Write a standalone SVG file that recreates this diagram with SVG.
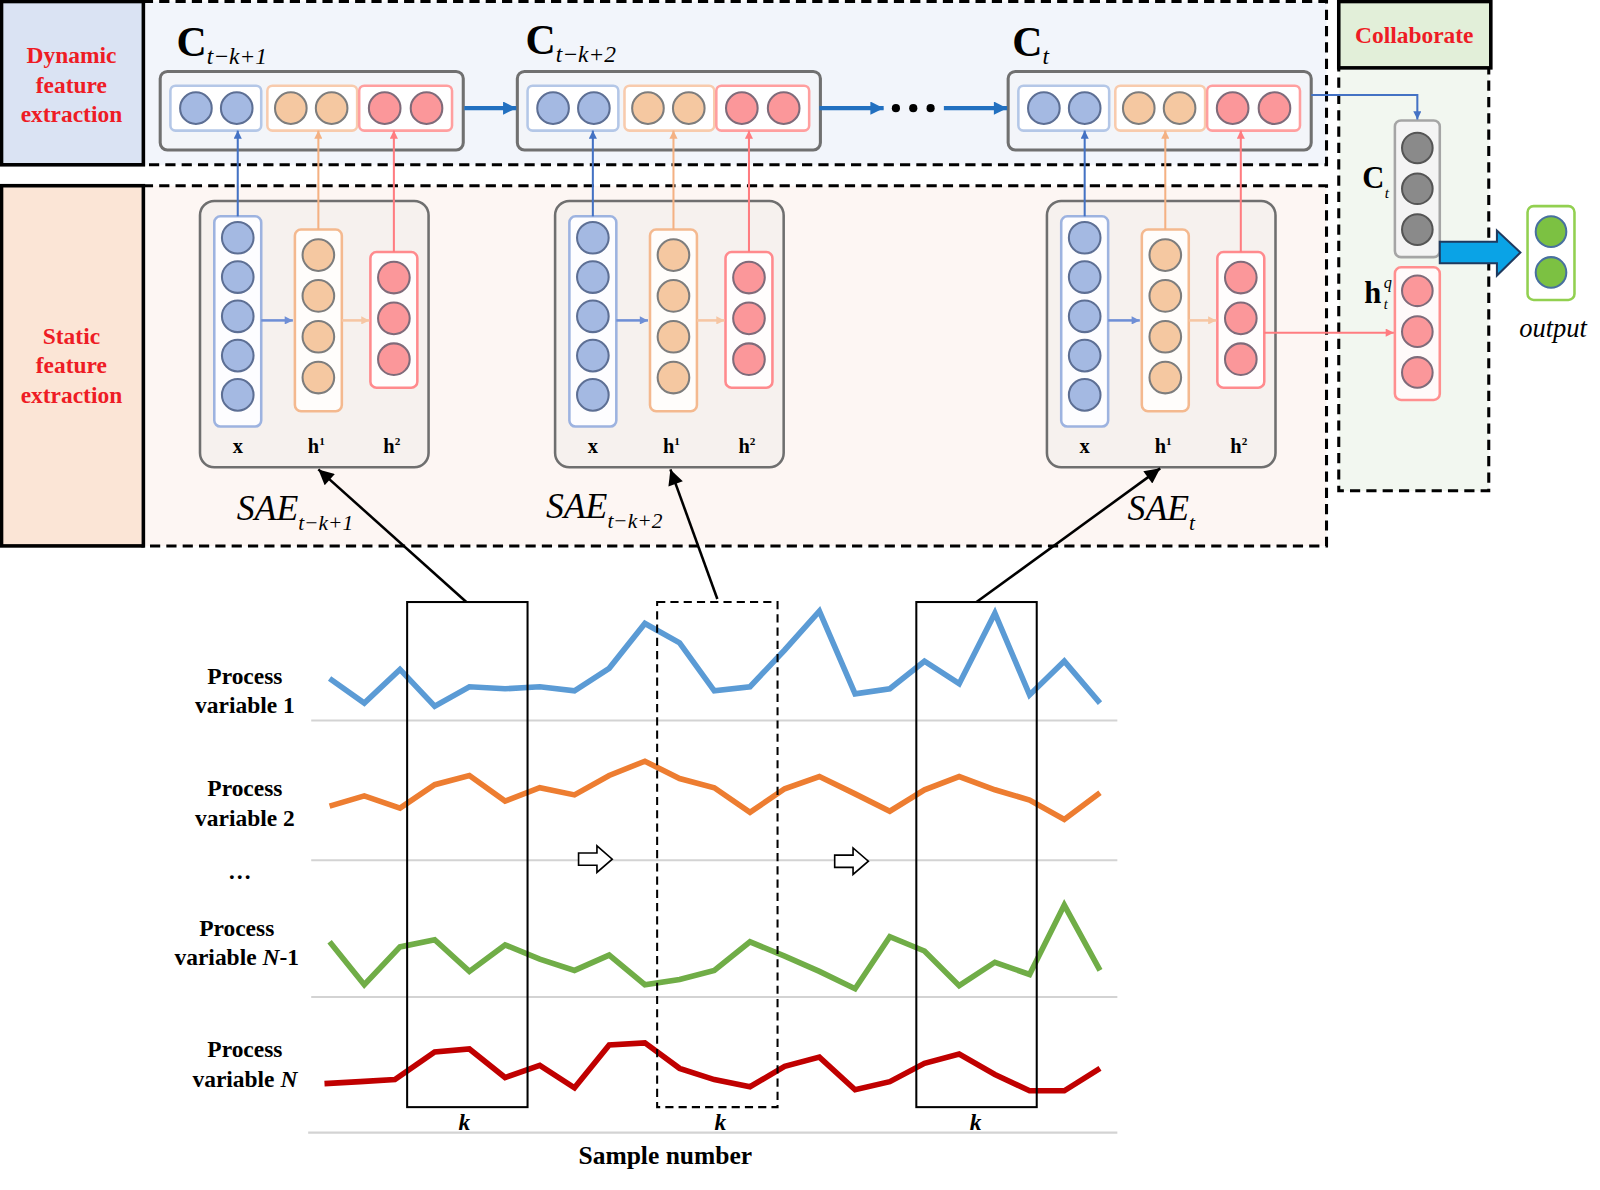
<svg xmlns="http://www.w3.org/2000/svg" width="1600" height="1190" viewBox="0 0 1600 1190">
<defs>
<style>
text { font-family: "Liberation Serif", "Times New Roman", serif; fill:#000; }
.lbl { font-size:23px; font-weight:bold; fill:#ee1c25; text-anchor:middle; }
.band { stroke:#000; stroke-width:3; stroke-dasharray:10 6; }
.solidbox { stroke:#000; stroke-width:3.5; }
.cout { fill:#f3f5f9; stroke:#707070; stroke-width:3; }
.ib { fill:#fff; stroke:#b4c7e7; stroke-width:2.5; }
.io { fill:#fff; stroke:#f8cbad; stroke-width:2.5; }
.ir { fill:#fff; stroke:#ff9f9f; stroke-width:2.5; }
.cb { fill:#fdfdff; stroke:#9db3e0; stroke-width:2.5; }
.co { fill:#fffdfb; stroke:#f4b98f; stroke-width:2.5; }
.cr { fill:#fffdfd; stroke:#ff8a8d; stroke-width:2.5; }
.nb { fill:#a4b9e2; stroke:#5d6f94; stroke-width:2; }
.no { fill:#f5c8a1; stroke:#7d7d7d; stroke-width:2; }
.nr { fill:#fb979a; stroke:#7f6b7a; stroke-width:2; }
.ng { fill:#8a8a8a; stroke:#555; stroke-width:2; }
.ngr { fill:#7cc142; stroke:#48709f; stroke-width:2; }
.saeo { fill:#f6f1ee; stroke:#6f6f6f; stroke-width:2.5; }
.cap { font-size:41px; font-weight:bold; }
.sub { font-size:23px; font-style:italic; }
.sae { font-size:35px; font-style:italic; }
.sl { font-size:20px; font-weight:bold; text-anchor:middle; }
.pv { font-size:23px; font-weight:bold; text-anchor:middle; }
.grid { stroke:#d3d3d3; stroke-width:2; }
.series { fill:none; stroke-width:5.5; stroke-linejoin:miter; }
.win { fill:none; stroke:#000; stroke-width:2; }
.hollow { fill:#fff; stroke:#000; stroke-width:1.6; }
</style>
<marker id="mdyn" markerUnits="userSpaceOnUse" viewBox="0 0 10 10" refX="10" refY="5" markerWidth="15" markerHeight="13" orient="auto"><path d="M0,0 L10,5 L0,10 z" fill="#2270c0"/></marker>
<marker id="mb" markerUnits="userSpaceOnUse" viewBox="0 0 10 10" refX="10" refY="5" markerWidth="9" markerHeight="8" orient="auto"><path d="M0,0 L10,5 L0,10 z" fill="#4472c4"/></marker>
<marker id="mbl" markerUnits="userSpaceOnUse" viewBox="0 0 10 10" refX="10" refY="5" markerWidth="9" markerHeight="8" orient="auto"><path d="M0,0 L10,5 L0,10 z" fill="#6f8fd6"/></marker>
<marker id="mo" markerUnits="userSpaceOnUse" viewBox="0 0 10 10" refX="10" refY="5" markerWidth="9" markerHeight="8" orient="auto"><path d="M0,0 L10,5 L0,10 z" fill="#f4b183"/></marker>
<marker id="mol" markerUnits="userSpaceOnUse" viewBox="0 0 10 10" refX="10" refY="5" markerWidth="9" markerHeight="8" orient="auto"><path d="M0,0 L10,5 L0,10 z" fill="#f6c6a3"/></marker>
<marker id="mr" markerUnits="userSpaceOnUse" viewBox="0 0 10 10" refX="10" refY="5" markerWidth="9" markerHeight="8" orient="auto"><path d="M0,0 L10,5 L0,10 z" fill="#ff7c80"/></marker>
<marker id="mk" markerUnits="userSpaceOnUse" viewBox="0 0 10 10" refX="10" refY="5" markerWidth="18" markerHeight="15" orient="auto"><path d="M0,0 L10,5 L0,10 z" fill="#000"/></marker>
<g id="cT">
<rect class="cout" x="0" y="0" width="297" height="77" rx="7"/>
<rect class="ib" x="10" y="14" width="89" height="44" rx="5"/>
<rect class="io" x="105" y="14" width="88" height="44" rx="5"/>
<rect class="ir" x="195" y="14" width="91" height="44" rx="5"/>
<circle class="nb" cx="35" cy="36" r="15.5"/><circle class="nb" cx="75" cy="36" r="15.5"/>
<circle class="no" cx="128" cy="36" r="15.5"/><circle class="no" cx="168" cy="36" r="15.5"/>
<circle class="nr" cx="220" cy="36" r="15.5"/><circle class="nr" cx="261" cy="36" r="15.5"/>
</g>
<g id="saeT">
<rect class="saeo" x="0" y="0" width="224" height="261" rx="14"/>
<rect class="cb" x="14" y="15" width="46" height="206" rx="6"/>
<circle class="nb" cx="37" cy="36" r="15.5"/><circle class="nb" cx="37" cy="74.5" r="15.5"/><circle class="nb" cx="37" cy="113" r="15.5"/><circle class="nb" cx="37" cy="151.5" r="15.5"/><circle class="nb" cx="37" cy="190" r="15.5"/>
<rect class="co" x="93" y="28" width="46" height="178" rx="6"/>
<circle class="no" cx="116" cy="53" r="15.5"/><circle class="no" cx="116" cy="93" r="15.5"/><circle class="no" cx="116" cy="133" r="15.5"/><circle class="no" cx="116" cy="173" r="15.5"/>
<rect class="cr" x="167" y="50" width="46" height="133" rx="6"/>
<circle class="nr" cx="190" cy="75" r="15.5"/><circle class="nr" cx="190" cy="115" r="15.5"/><circle class="nr" cx="190" cy="155" r="15.5"/>
<line x1="60" y1="117" x2="91" y2="117" stroke="#6f8fd6" stroke-width="2.5" marker-end="url(#mbl)"/>
<line x1="139" y1="117" x2="166" y2="117" stroke="#f6c6a3" stroke-width="2.5" marker-end="url(#mol)"/>
</g>
</defs>
<rect x="0" y="0" width="1600" height="1190" fill="#fff"/>
<g transform="scale(1.0204)">

<g id="dynamic-band">
<rect class="band" x="140" y="1.5" width="1160" height="160" fill="#f2f5fb"/>
<rect class="solidbox" x="1.5" y="1.5" width="139" height="160" fill="#dae3f3"/>
<text class="lbl" x="70" y="62">Dynamic</text>
<text class="lbl" x="70" y="91">feature</text>
<text class="lbl" x="70" y="120">extraction</text>
</g>
<g id="static-band">
<rect class="band" x="140" y="182" width="1160" height="353" fill="#fdf6f3"/>
<rect class="solidbox" x="1.5" y="182" width="139" height="353" fill="#fbe5d6"/>
<text class="lbl" x="70" y="337">Static</text>
<text class="lbl" x="70" y="366">feature</text>
<text class="lbl" x="70" y="395">extraction</text>
</g>
<g id="collaborate-band">
<rect class="band" x="1312" y="66" width="147" height="415" fill="#f2f7f0"/>
<rect class="solidbox" x="1312" y="1.5" width="149" height="65" fill="#e2efd9"/>
<text class="lbl" x="1386" y="42">Collaborate</text>
</g>

<g id="C1">
<use href="#cT" x="157" y="70"/>
<text class="cap" x="173" y="55">C<tspan class="sub" dy="8" font-weight="normal">t−k+1</tspan></text>
</g>
<g id="C2">
<use href="#cT" x="507" y="70"/>
<text class="cap" x="515" y="53">C<tspan class="sub" dy="8" font-weight="normal">t−k+2</tspan></text>
</g>
<g id="C3">
<use href="#cT" x="988" y="70"/>
<text class="cap" x="992" y="55">C<tspan class="sub" dy="8" font-weight="normal">t</tspan></text>
</g>

<g id="SAE1">
<use href="#saeT" x="196" y="197"/>
<text class="sl" x="233" y="444">x</text>
<text class="sl" x="310" y="444">h<tspan font-size="11" dy="-8">1</tspan></text>
<text class="sl" x="384" y="444">h<tspan font-size="11" dy="-8">2</tspan></text>
<text class="sae" x="232" y="510">SAE<tspan font-size="21" dy="9">t−k+1</tspan></text>
</g>
<g id="SAE2">
<use href="#saeT" x="544" y="197"/>
<text class="sl" x="581" y="444">x</text>
<text class="sl" x="658" y="444">h<tspan font-size="11" dy="-8">1</tspan></text>
<text class="sl" x="732" y="444">h<tspan font-size="11" dy="-8">2</tspan></text>
<text class="sae" x="535" y="508">SAE<tspan font-size="21" dy="9">t−k+2</tspan></text>
</g>
<g id="SAE3">
<use href="#saeT" x="1026" y="197"/>
<text class="sl" x="1063" y="444">x</text>
<text class="sl" x="1140" y="444">h<tspan font-size="11" dy="-8">1</tspan></text>
<text class="sl" x="1214" y="444">h<tspan font-size="11" dy="-8">2</tspan></text>
<text class="sae" x="1105" y="510">SAE<tspan font-size="21" dy="9">t</tspan></text>
</g>

<g id="Ct-column">
<text x="1335" y="184" font-size="30" font-weight="bold">C</text>
<text x="1357" y="194" font-size="15" font-style="italic">t</text>
<rect x="1367" y="118" width="44" height="134" rx="6" fill="#f4f4f4" stroke="#a5a5a5" stroke-width="2.5"/>
<circle class="ng" cx="1389" cy="145" r="15"/><circle class="ng" cx="1389" cy="185" r="15"/><circle class="ng" cx="1389" cy="225" r="15"/>
</g>
<g id="ht-column">
<text x="1337" y="297" font-size="30" font-weight="bold">h</text>
<text x="1356" y="282" font-size="16" font-style="italic">q</text>
<text x="1356" y="303" font-size="14" font-style="italic">t</text>
<rect x="1367" y="262" width="44" height="130" rx="6" fill="#fffafa" stroke="#ff8f8f" stroke-width="2.5"/>
<circle class="nr" cx="1389" cy="285" r="15"/><circle class="nr" cx="1389" cy="325" r="15"/><circle class="nr" cx="1389" cy="365" r="15"/>
</g>
<g id="output">
<rect x="1497" y="202" width="46" height="92" rx="6" fill="#fff" stroke="#92d050" stroke-width="2.5"/>
<circle class="ngr" cx="1520" cy="227" r="15"/><circle class="ngr" cx="1520" cy="267" r="15"/>
<text x="1522" y="330" font-size="26" font-style="italic" text-anchor="middle">output</text>
</g>

<g id="chart">
<line class="grid" x1="305" y1="706" x2="1095" y2="706"/>
<line class="grid" x1="305" y1="843" x2="1095" y2="843"/>
<line class="grid" x1="305" y1="977" x2="1095" y2="977"/>
<line class="grid" x1="302" y1="1110" x2="1095" y2="1110"/>
<text class="pv" x="240" y="670">Process</text>
<text class="pv" x="240" y="699">variable  1</text>
<text class="pv" x="240" y="780">Process</text>
<text class="pv" x="240" y="809">variable  2</text>
<text class="pv" x="235" y="861">…</text>
<text class="pv" x="232" y="917">Process</text>
<text class="pv" x="232" y="946">variable <tspan font-style="italic">N</tspan>-1</text>
<text class="pv" x="240" y="1036">Process</text>
<text class="pv" x="240" y="1065">variable <tspan font-style="italic">N</tspan></text>
<polyline class="series" stroke="#5b9bd5" points="323,665 357,689 392,656 426,692 460,673 495,675 529,673 563,677 597,655 632,611 666,630 700,677 735,673 769,637 803,599 838,680 872,675 906,648 940,670 975,601 1009,681 1043,648 1078,689"/>
<polyline class="series" stroke="#ed7d31" points="323,790 357,780 392,792 426,769 460,760 495,785 529,772 563,779 597,760 632,746 666,763 700,772 735,796 769,773 803,761 838,778 872,795 906,774 940,761 975,774 1009,784 1043,803 1078,777"/>
<polyline class="series" stroke="#70ad47" points="323,923 357,965 392,928 426,921 460,952 495,926 529,940 563,951 597,936 632,965 666,960 700,951 735,923 769,937 803,952 838,969 872,918 906,932 940,966 975,943 1009,955 1043,887 1078,951"/>
<polyline class="series" stroke="#c00000" stroke-width="6.5" points="318,1062 353,1060 387,1058 426,1031 460,1028 495,1056 529,1044 563,1066 597,1024 632,1022 666,1047 700,1058 735,1065 769,1045 803,1036 838,1068 872,1060 906,1042 940,1033 975,1053 1009,1069 1043,1069 1078,1047"/>
<rect class="win" x="399" y="590" width="118" height="495"/>
<rect class="win" x="644" y="590" width="118" height="495" stroke-width="2.5" stroke-dasharray="8 5"/>
<rect class="win" x="898" y="590" width="118" height="495"/>
<text x="455" y="1107" font-size="23" font-weight="bold" font-style="italic" text-anchor="middle">k</text>
<text x="706" y="1107" font-size="23" font-weight="bold" font-style="italic" text-anchor="middle">k</text>
<text x="956" y="1107" font-size="23" font-weight="bold" font-style="italic" text-anchor="middle">k</text>
<text x="652" y="1141" font-size="25" font-weight="bold" text-anchor="middle">Sample number</text>
<path class="hollow" d="M567,836 L585,836 L585,829 L600,842 L585,855 L585,848 L567,848 Z"/>
<path class="hollow" d="M818,838 L836,838 L836,831 L851,844 L836,857 L836,850 L818,850 Z"/>
</g>

<g id="connectors">
<line x1="455" y1="106" x2="506" y2="106" stroke="#2270c0" stroke-width="4" marker-end="url(#mdyn)"/>
<line x1="803" y1="106" x2="866" y2="106" stroke="#2270c0" stroke-width="4" marker-end="url(#mdyn)"/>
<circle cx="878" cy="106" r="4" fill="#000"/><circle cx="895" cy="106" r="4" fill="#000"/><circle cx="912" cy="106" r="4" fill="#000"/>
<line x1="925" y1="106" x2="987" y2="106" stroke="#2270c0" stroke-width="4" marker-end="url(#mdyn)"/>
<line x1="233" y1="212" x2="233" y2="128" stroke="#4472c4" stroke-width="2" marker-end="url(#mb)"/>
<line x1="312" y1="225" x2="312" y2="128" stroke="#f4b183" stroke-width="2" marker-end="url(#mo)"/>
<line x1="386" y1="247" x2="386" y2="128" stroke="#ff7c80" stroke-width="2" marker-end="url(#mr)"/>
<line x1="581" y1="212" x2="581" y2="128" stroke="#4472c4" stroke-width="2" marker-end="url(#mb)"/>
<line x1="660" y1="225" x2="660" y2="128" stroke="#f4b183" stroke-width="2" marker-end="url(#mo)"/>
<line x1="734" y1="247" x2="734" y2="128" stroke="#ff7c80" stroke-width="2" marker-end="url(#mr)"/>
<line x1="1063" y1="212" x2="1063" y2="128" stroke="#4472c4" stroke-width="2" marker-end="url(#mb)"/>
<line x1="1142" y1="225" x2="1142" y2="128" stroke="#f4b183" stroke-width="2" marker-end="url(#mo)"/>
<line x1="1216" y1="247" x2="1216" y2="128" stroke="#ff7c80" stroke-width="2" marker-end="url(#mr)"/>
<polyline points="1285,93 1389,93 1389,117" fill="none" stroke="#4472c4" stroke-width="2" marker-end="url(#mb)"/>
<line x1="1239" y1="326" x2="1366" y2="326" stroke="#ff7c80" stroke-width="2" marker-end="url(#mr)"/>
<path d="M1411,237 L1467,237 L1467,226 L1490,247.5 L1467,270 L1467,258 L1411,258 Z" fill="#0aa3e6" stroke="#1f3a5f" stroke-width="2"/>
<line x1="457" y1="590" x2="312" y2="460" stroke="#000" stroke-width="2.5" marker-end="url(#mk)"/>
<line x1="703" y1="587" x2="657" y2="460" stroke="#000" stroke-width="2.5" marker-end="url(#mk)"/>
<line x1="957" y1="590" x2="1137" y2="459" stroke="#000" stroke-width="2.5" marker-end="url(#mk)"/>
</g>
</g>
</svg>
